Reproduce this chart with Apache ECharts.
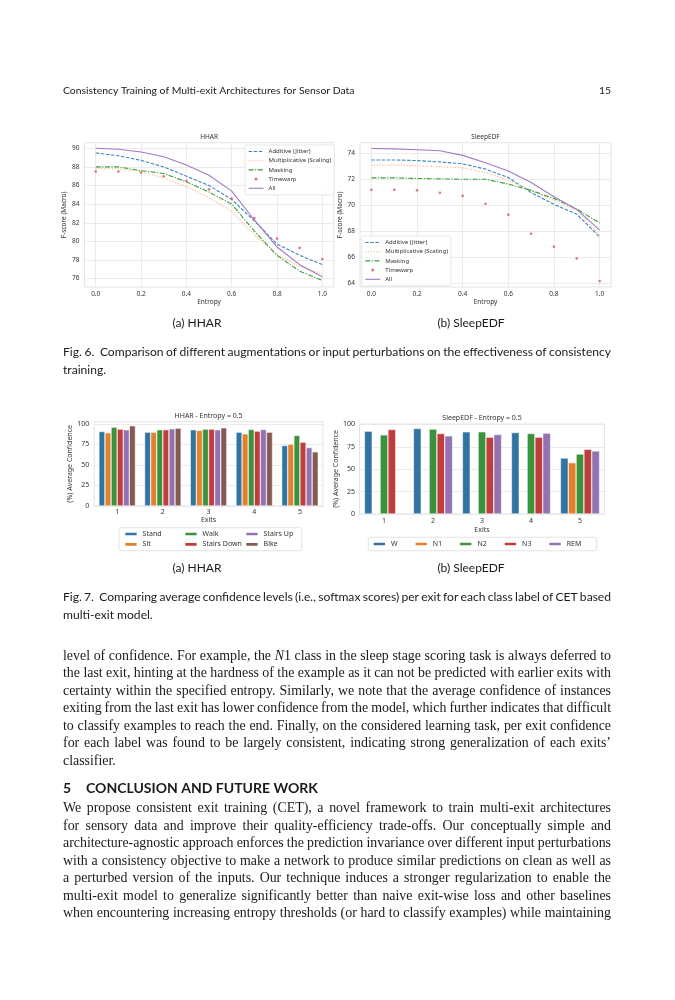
<!DOCTYPE html>
<html><head><meta charset="utf-8">
<script src="https://cdn.jsdelivr.net/npm/echarts@6/dist/echarts.min.js"></script>
<style>html,body{margin:0;padding:0;background:#fff}#c{width:675px;height:1000px}</style>
</head><body><div id="c"></div>
<script>
// ---------------- data ----------------
const entropyVals = [0.0, 0.1, 0.2, 0.3, 0.4, 0.5, 0.6, 0.7, 0.8, 0.9, 1.0];
const entropyTicks = [0.0, 0.2, 0.4, 0.6, 0.8, 1.0];
const augNames = ['Additive (Jitter)', 'Multiplicative (Scaling)', 'Masking', 'Timewarp', 'All'];

const hharAdditive = [89.5, 89.2, 88.7, 88.0, 87.0, 86.0, 84.5, 82.2, 79.7, 78.5, 77.5];
const hharMult     = [87.8, 87.8, 87.5, 86.8, 85.9, 84.7, 83.2, 80.7, 78.6, 77.3, 76.5];
const hharMask     = [88.0, 88.0, 87.6, 87.3, 86.4, 85.3, 84.0, 81.1, 78.5, 76.8, 75.8];
const hharTime     = [87.5, 87.5, 87.4, 87.0, 86.5, 85.6, 84.6, 82.5, 80.3, 79.3, 78.1];
const hharAll      = [90.0, 89.9, 89.6, 89.1, 88.2, 87.1, 85.4, 82.3, 79.4, 77.5, 76.2];
const hharFTicks   = [76, 78, 80, 82, 84, 86, 88, 90];

const sleepAdditive = [73.45, 73.45, 73.4, 73.3, 73.15, 72.75, 72.1, 70.95, 70.05, 69.3, 67.55];
const sleepMult     = [73.05, 73.05, 73.0, 72.93, 72.85, 72.5, 71.9, 71.1, 70.35, 69.6, 67.65];
const sleepMask     = [72.08, 72.08, 72.03, 72.0, 71.97, 71.97, 71.6, 71.12, 70.5, 69.7, 68.62];
const sleepTime     = [71.17, 71.17, 71.12, 70.94, 70.7, 70.1, 69.26, 67.8, 66.8, 65.9, 64.18];
const sleepAll      = [74.33, 74.3, 74.23, 74.15, 73.8, 73.23, 72.6, 71.72, 70.63, 69.66, 68.08];
const sleepFTicks   = [64, 66, 68, 70, 72, 74];

const exits = ['1', '2', '3', '4', '5'];
const confTicks = [0, 25, 50, 75, 100];
const hharClasses = ['Stand', 'Sit', 'Walk', 'Stairs Down', 'Stairs Up', 'Bike'];
const hharStand      = [90.6, 89.8, 92.7, 89.8, 73.6];
const hharSit        = [89.0, 89.8, 91.9, 87.8, 75.2];
const hharWalk       = [95.9, 92.7, 93.5, 93.1, 85.8];
const hharStairsDown = [93.5, 92.7, 93.5, 91.1, 77.6];
const hharStairsUp   = [92.7, 93.9, 92.7, 93.1, 71.1];
const hharBike       = [97.6, 94.7, 95.1, 89.8, 65.9];

const sleepClasses = ['W', 'N1', 'N2', 'N3', 'REM'];
const sleepW   = [92.5, 95.5, 91.8, 91.0, 62.5];
const sleepN1  = [null, null, null, null, 57.3];
const sleepN2  = [88.4, 94.8, 91.8, 89.9, 67.0];
const sleepN3  = [94.4, 89.9, 85.8, 85.8, 72.3];
const sleepREM = [null, 87.3, 88.8, 90.3, 70.4];

// ---------------- page text ----------------
const headerText = 'Consistency Training of Multi-exit Architectures for Sensor Data';
const pageNumber = '15';
const subA = '(a) HHAR';
const subB = '(b) SleepEDF';
const fig6Lines = ['Fig. 6.  Comparison of different augmentations or input perturbations on the effectiveness of consistency', 'training.'];
const fig7Lines = ['Fig. 7.  Comparing average confidence levels (i.e., softmax scores) per exit for each class label of CET based', 'multi-exit model.'];
const para1 = [
  'level of confidence. For example, the N1 class in the sleep stage scoring task is always deferred to',
  'the last exit, hinting at the hardness of the example as it can not be predicted with earlier exits with',
  'certainty within the specified entropy. Similarly, we note that the average confidence of instances',
  'exiting from the last exit has lower confidence from the model, which further indicates that difficult',
  'to classify examples to reach the end. Finally, on the considered learning task, per exit confidence',
  'for each label was found to be largely consistent, indicating strong generalization of each exits\u2019',
  'classifier.'
];
const headingNum = '5';
const headingText = 'CONCLUSION AND FUTURE WORK';
const para2 = [
  'We propose consistent exit training (CET), a novel framework to train multi-exit architectures',
  'for sensory data and improve their quality-efficiency trade-offs. Our conceptually simple and',
  'architecture-agnostic approach enforces the prediction invariance over different input perturbations',
  'with a consistency objective to make a network to produce similar predictions on clean as well as',
  'a perturbed version of the inputs. Our technique induces a stronger regularization to enable the',
  'multi-exit model to generalize significantly better than naive exit-wise loss and other baselines',
  'when encountering increasing entropy thresholds (or hard to classify examples) while maintaining'
];

// ---------------- helpers ----------------
const F = 'Noto Sans';
const SERIF = '"Liberation Serif"';
const SANS = 'Lato';
const INK = '#1a1a1a';
const AX = '#333333';
const mctx = document.createElement('canvas').getContext('2d');
function fstr(sz, fam, wt, st) { return (st || 'normal') + ' ' + (wt || 'normal') + ' ' + sz + 'px ' + fam; }
function mw(t, sz, fam, wt, st) { mctx.font = fstr(sz, fam, wt, st); return mctx.measureText(t).width; }
function wordW(w, sz, fam, wt) {
  if (w === 'N1') return mw('N', sz, fam, wt, 'italic') + mw('1', sz, fam, wt);
  return mw(w, sz, fam, wt);
}
function txt(t, x, y, sz, fam, opts) {
  opts = opts || {};
  return { type: 'text', x: x, y: y, z: 10, silent: true, style: {
    text: t, fontSize: sz, fontFamily: fam, fontWeight: opts.wt || 'normal', fontStyle: opts.st || 'normal',
    fill: opts.fill || INK, textAlign: opts.align || 'left', align: opts.align || 'left',
    textVerticalAlign: 'middle', verticalAlign: 'middle' } };
}
function fitSize(lines, base, fam, width, wt) {
  let s = base;
  lines.forEach(function (ln) {
    const ws = ln.split(' ').filter(function (w) { return w.length; });
    let sum = 0; ws.forEach(function (w) { sum += wordW(w, base, fam, wt); });
    const need = sum + (ws.length - 1) * 0.2 * base;
    if (need > width) s = Math.min(s, base * width / need);
  });
  return s;
}
function lineEls(ln, x0, y, width, sz, fam, justify, wt) {
  const els = [];
  const raw = ln.split(' ');
  const ws = [], extra = [];
  raw.forEach(function (w) { if (w.length) { ws.push(w); extra.push(0); } else if (ws.length) { extra[ws.length - 1] += 1; } });
  const widths = ws.map(function (w) { return wordW(w, sz, fam, wt); });
  const sp = mw(' ', sz, fam, wt);
  let totalExtra = 0; extra.forEach(function (e) { totalExtra += e * sp; });
  let sum = 0; widths.forEach(function (w) { sum += w; });
  const gap = (justify && ws.length > 1) ? (width - sum - totalExtra) / (ws.length - 1) : sp;
  let cx = x0;
  ws.forEach(function (w, i) {
    if (w === 'N1') {
      els.push(txt('N', cx, y, sz, fam, { st: 'italic', wt: wt }));
      els.push(txt('1', cx + mw('N', sz, fam, wt, 'italic'), y, sz, fam, { wt: wt }));
    } else {
      els.push(txt(w, cx, y, sz, fam, { wt: wt }));
    }
    cx += widths[i] + gap + extra[i] * sp;
  });
  return els;
}

// ---------------- layout ----------------
const LEFT = 63, TEXTW = 548;
const gridsPos = [
  { left: 84.4, top: 142.7, width: 249.3, height: 144.3 },
  { left: 360, top: 142.7, width: 251, height: 144.3 },
  { left: 94.3, top: 421.7, width: 228.5, height: 84.3 },
  { left: 359.5, top: 424, width: 245, height: 90 }
];

const graphics = [];
// header
const headSz = 11 * 292 / mw(headerText, 11, SANS);
graphics.push(txt(headerText, LEFT, 91, headSz, SANS));
graphics.push(txt(pageNumber, LEFT + TEXTW, 91, headSz, SANS, { align: 'right' }));
// chart titles
graphics.push(txt('HHAR', gridsPos[0].left + gridsPos[0].width / 2, 137, 6.5, F, { align: 'center', fill: AX }));
graphics.push(txt('SleepEDF', gridsPos[1].left + gridsPos[1].width / 2, 137, 6.5, F, { align: 'center', fill: AX }));
graphics.push(txt('HHAR - Entropy = 0.5', gridsPos[2].left + gridsPos[2].width / 2, 415.5, 7, F, { align: 'center', fill: AX }));
graphics.push(txt('SleepEDF - Entropy = 0.5', gridsPos[3].left + gridsPos[3].width / 2, 418.3, 7, F, { align: 'center', fill: AX }));
// sub captions
graphics.push(txt(subA, 197, 323, 12, SANS, { align: 'center' }));
graphics.push(txt(subB, 471, 323, 12, SANS, { align: 'center' }));
graphics.push(txt(subA, 197, 568, 12, SANS, { align: 'center' }));
graphics.push(txt(subB, 471, 568, 12, SANS, { align: 'center' }));
// figure captions
const capSz = fitSize([fig6Lines[0], fig7Lines[0]], 12.5, SANS, TEXTW);
lineEls(fig6Lines[0], LEFT, 352, TEXTW, capSz, SANS, true).forEach(function (e) { graphics.push(e); });
lineEls(fig6Lines[1], LEFT, 370, TEXTW, capSz, SANS, false).forEach(function (e) { graphics.push(e); });
lineEls(fig7Lines[0], LEFT, 597, TEXTW, capSz, SANS, true).forEach(function (e) { graphics.push(e); });
lineEls(fig7Lines[1], LEFT, 615, TEXTW, capSz, SANS, false).forEach(function (e) { graphics.push(e); });
// body
const bodySz = fitSize(para1.slice(0, 6).concat(para2), 13.9, SERIF, TEXTW);
const LH = 17.5;
para1.forEach(function (ln, i) {
  lineEls(ln, LEFT, 656 + i * LH, TEXTW, bodySz, SERIF, i < para1.length - 1).forEach(function (e) { graphics.push(e); });
});
const hdSz = 12.5 * 232 / mw(headingText, 12.5, SANS, 'bold');
graphics.push(txt(headingNum, LEFT, 788, hdSz, SANS, { wt: 'bold' }));
graphics.push(txt(headingText, 86, 788, hdSz, SANS, { wt: 'bold' }));
para2.forEach(function (ln, i) {
  lineEls(ln, LEFT, 808.5 + i * LH, TEXTW, bodySz, SERIF, true).forEach(function (e) { graphics.push(e); });
});
// legend boxes for bar charts
graphics.push({ type: 'rect', z: 3, silent: true, shape: { x: 119, y: 527.7, width: 182.7, height: 23, r: 2 }, style: { fill: '#fff', stroke: '#d8d8d8', lineWidth: 0.7 } });
graphics.push({ type: 'rect', z: 3, silent: true, shape: { x: 368.3, y: 537.3, width: 228.4, height: 13.4, r: 2 }, style: { fill: '#fff', stroke: '#d8d8d8', lineWidth: 0.7 } });

// ---------------- axes ----------------
const gridLine = { show: true, lineStyle: { color: '#e6e6e6', width: 0.8 } };
function lineX(gi) {
  return { type: 'value', gridIndex: gi, min: -0.05, max: 1.05,
    name: 'Entropy', nameLocation: 'middle', nameGap: 11.5,
    nameTextStyle: { fontSize: 6.5, color: AX, fontFamily: F },
    axisLine: { show: false }, axisTick: { show: false, customValues: entropyTicks },
    axisLabel: { customValues: entropyTicks, formatter: function (v) { return Number(v).toFixed(1); }, fontSize: 6.5, color: AX, fontFamily: F, margin: 3.5 },
    splitLine: gridLine };
}
function lineY(gi, mn, mx, ticks, gap) {
  return { type: 'value', gridIndex: gi, min: mn, max: mx,
    name: 'F-score (Macro)', nameLocation: 'middle', nameGap: gap,
    nameTextStyle: { fontSize: 6.5, color: AX, fontFamily: F },
    axisLine: { show: false }, axisTick: { show: false, customValues: ticks },
    axisLabel: { customValues: ticks, fontSize: 6.5, color: AX, fontFamily: F, margin: 5 },
    splitLine: gridLine };
}
function barX(gi, gap, margin) {
  return { type: 'category', gridIndex: gi, data: exits,
    name: 'Exits', nameLocation: 'middle', nameGap: gap,
    nameTextStyle: { fontSize: 7, color: AX, fontFamily: F },
    axisLine: { show: false }, axisTick: { show: false },
    axisLabel: { fontSize: 7, color: AX, fontFamily: F, margin: margin },
    splitLine: { show: false } };
}
function barY(gi, mx, gap, margin) {
  return { type: 'value', gridIndex: gi, min: 0, max: mx,
    name: '(%) Average Confidence', nameLocation: 'middle', nameGap: gap,
    nameTextStyle: { fontSize: 7, color: AX, fontFamily: F },
    axisLine: { show: false }, axisTick: { show: false, customValues: confTicks },
    axisLabel: { customValues: confTicks, fontSize: 7, color: AX, fontFamily: F, margin: margin },
    splitLine: gridLine };
}

// ---------------- series ----------------
const augStyles = [
  { color: '#3a87c0', type: [3.5, 1.6] },
  { color: '#f8b37f', type: [1.1, 1.6] },
  { color: '#3c9d3c', type: [5, 1.5, 1.2, 1.5] },
  { color: '#d9534f' },
  { color: '#9d7bc7', type: 'solid' }
];
function augSeries(gi, arrays) {
  return arrays.map(function (arr, k) {
    const pts = entropyVals.map(function (x, i) { return [x, arr[i]]; });
    if (k === 3) {
      return { type: 'scatter', name: augNames[k], xAxisIndex: gi, yAxisIndex: gi, data: pts,
        symbol: 'circle', symbolSize: 2.6, itemStyle: { color: augStyles[k].color }, z: 3 };
    }
    return { type: 'line', name: augNames[k], xAxisIndex: gi, yAxisIndex: gi, data: pts,
      symbol: 'none', itemStyle: { color: augStyles[k].color },
      lineStyle: { color: augStyles[k].color, width: 1.1, type: augStyles[k].type }, z: 2 + (k === 4 ? 1 : 0) };
  });
}
const hharColors = ['#3274a1', '#e1812c', '#3a923a', '#c03d3e', '#9372b2', '#845b53'];
const sleepColors = ['#3274a1', '#e1812c', '#3a923a', '#c03d3e', '#9372b2'];
function barSeries(gi, names, arrays, colors) {
  return names.map(function (n, i) {
    return { type: 'bar', name: n, xAxisIndex: gi, yAxisIndex: gi, data: arrays[i],
      barGap: '0%', barCategoryGap: '20%',
      itemStyle: { color: colors[i], borderColor: '#ffffff', borderWidth: 0.5 } };
  });
}

// legend entries: hide the symbol drawn in the middle of line icons
const augLegendData = augNames.map(function (n, k) {
  return k === 3 ? { name: n } : { name: n, itemStyle: { opacity: 0 } };
});
const lineLegendBase = {
  orient: 'vertical', itemWidth: 15, itemHeight: 3, itemGap: 1.2, selectedMode: false,
  textStyle: { fontSize: 6, color: AX, fontFamily: F, lineHeight: 8 },
  lineStyle: { width: 1.1 },
  backgroundColor: 'rgba(255,255,255,0.85)', borderColor: '#d8d8d8', borderWidth: 0.6, borderRadius: 2,
  padding: [2.5, 3, 2.5, 3], z: 6
};
function barLegend(names, left, top, orient, gap) {
  return { data: names, orient: orient, left: left, top: top, icon: 'rect', itemWidth: 13.3, itemHeight: 4.7,
    itemGap: gap, selectedMode: false, padding: 0, z: 6,
    textStyle: { fontSize: 7, color: AX, fontFamily: F, lineHeight: 8 } };
}

const option = {
  animation: false,
  backgroundColor: '#ffffff',
  grid: gridsPos.map(function (g) { return Object.assign({ show: true, borderColor: '#dcdcdc', borderWidth: 0.8, backgroundColor: 'transparent', containLabel: false }, g); }),
  xAxis: [lineX(0), lineX(1), barX(2, 10.5, 2.5), barX(3, 12.5, 3.5)],
  yAxis: [lineY(0, 75.1, 90.6, hharFTicks, 12), lineY(1, 63.72, 74.77, sleepFTicks, 16),
          barY(2, 102.5, 14, 5), barY(3, 100.5, 19, 4.5)],
  legend: [
    Object.assign({ data: augLegendData, left: 245, top: 145 }, lineLegendBase),
    Object.assign({ data: augLegendData, left: 361.7, top: 236 }, lineLegendBase),
    barLegend(['Stand', 'Sit'], 123.3, 530, 'vertical', 2.3),
    barLegend(['Walk', 'Stairs Down'], 183.3, 530, 'vertical', 2.3),
    barLegend(['Stairs Up', 'Bike'], 244.3, 530, 'vertical', 2.3),
    barLegend(sleepClasses, 371.7, 540, 'horizontal', 16)
  ],
  graphic: { elements: graphics },
  series: [].concat(
    augSeries(0, [hharAdditive, hharMult, hharMask, hharTime, hharAll]),
    augSeries(1, [sleepAdditive, sleepMult, sleepMask, sleepTime, sleepAll]),
    barSeries(2, hharClasses, [hharStand, hharSit, hharWalk, hharStairsDown, hharStairsUp, hharBike], hharColors),
    barSeries(3, sleepClasses, [sleepW, sleepN1, sleepN2, sleepN3, sleepREM], sleepColors)
  )
};
const chart = echarts.init(document.getElementById('c'), null, { renderer: 'canvas' });
chart.setOption(option);
</script>
</body></html>
